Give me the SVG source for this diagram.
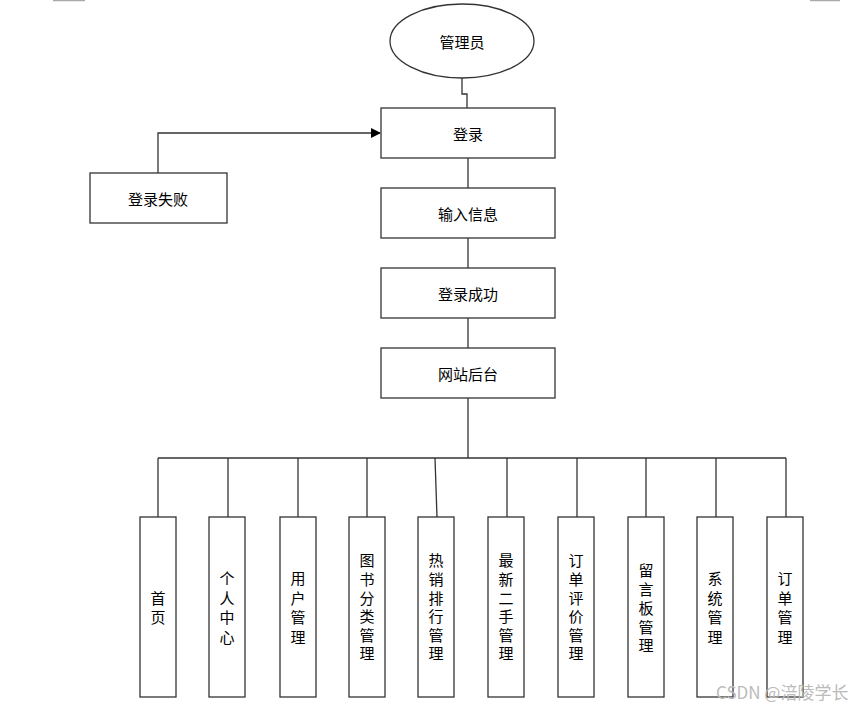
<svg xmlns="http://www.w3.org/2000/svg" width="867" height="711" viewBox="0 0 867 711">
<defs>
<style>
.box{fill:#fff;stroke:#333;stroke-width:1.3}
.ln{fill:none;stroke:#333;stroke-width:1.3}
.t{font-family:"Noto Sans CJK SC","Liberation Sans",sans-serif;font-size:15px;fill:#000;text-anchor:middle;dominant-baseline:central}
.v{font-family:"Noto Sans CJK SC","Liberation Sans",sans-serif;font-size:15px;fill:#000;text-anchor:middle;dominant-baseline:central;writing-mode:vertical-rl}
.v4{letter-spacing:4.5px}
.v5{letter-spacing:3.8px}
.v6{letter-spacing:3.6px}
.wm{font-family:"Noto Sans CJK SC","Liberation Sans",sans-serif;font-size:17px;fill:#bbb;text-anchor:start}
</style>
<marker id="arr" markerWidth="10" markerHeight="10" refX="9" refY="5" orient="auto" markerUnits="userSpaceOnUse">
<path d="M0,0 L10,5 L0,10 Z" fill="#000"/>
</marker>
</defs>
<rect width="867" height="711" fill="#fff"/>
<line x1="53" y1="0.5" x2="85" y2="0.5" stroke="#aaa" stroke-width="1.5"/>
<line x1="810" y1="0.5" x2="840" y2="0.5" stroke="#aaa" stroke-width="1.5"/>
<g id="connectors">
<path class="ln" d="M462,78 V94 H467 V108"/>
<path class="ln" d="M158,173 V133 H380" marker-end="url(#arr)"/>
<line class="ln" x1="468" y1="158" x2="468" y2="188"/>
<line class="ln" x1="468" y1="238" x2="468" y2="268"/>
<line class="ln" x1="468" y1="318" x2="468" y2="348"/>
<line class="ln" x1="468" y1="398" x2="468" y2="458"/>
<line class="ln" x1="158" y1="458" x2="786" y2="458"/>
<line class="ln" x1="158" y1="458" x2="158" y2="517"/>
<line class="ln" x1="228" y1="458" x2="228" y2="517"/>
<line class="ln" x1="298" y1="458" x2="298" y2="517"/>
<line class="ln" x1="367" y1="458" x2="367" y2="517"/>
<line class="ln" x1="435" y1="458" x2="437" y2="517"/>
<line class="ln" x1="507" y1="458" x2="507" y2="517"/>
<line class="ln" x1="577" y1="458" x2="577" y2="517"/>
<line class="ln" x1="646" y1="458" x2="646" y2="517"/>
<line class="ln" x1="716" y1="458" x2="716" y2="517"/>
<line class="ln" x1="786" y1="458" x2="786" y2="517"/>
</g>
<g id="admin"><ellipse class="box" cx="462" cy="41" rx="72" ry="37"/><text class="t" x="462" y="41">管理员</text></g>
<g id="login"><rect class="box" x="381" y="108" width="174" height="50"/><text class="t" x="468" y="133">登录</text></g>
<g id="input"><rect class="box" x="381" y="188" width="174" height="50"/><text class="t" x="468" y="213">输入信息</text></g>
<g id="success"><rect class="box" x="381" y="268" width="174" height="50"/><text class="t" x="468" y="293">登录成功</text></g>
<g id="backend"><rect class="box" x="381" y="348" width="174" height="50"/><text class="t" x="468" y="373">网站后台</text></g>
<g id="fail"><rect class="box" x="90" y="173" width="137" height="50"/><text class="t" x="158" y="198">登录失败</text></g>
<g id="m1"><rect class="box" x="140" y="517" width="36" height="180"/><text class="v v4" x="158" y="610">首页</text></g>
<g id="m2"><rect class="box" x="209" y="517" width="36" height="180"/><text class="v v4" x="227" y="610">个人中心</text></g>
<g id="m3"><rect class="box" x="280" y="517" width="36" height="180"/><text class="v v4" x="298" y="610">用户管理</text></g>
<g id="m4"><rect class="box" x="349" y="517" width="36" height="180"/><text class="v v6" x="367" y="609">图书分类管理</text></g>
<g id="m5"><rect class="box" x="418" y="517" width="36" height="180"/><text class="v v6" x="436" y="609">热销排行管理</text></g>
<g id="m6"><rect class="box" x="488" y="517" width="36" height="180"/><text class="v v6" x="506" y="609">最新二手管理</text></g>
<g id="m7"><rect class="box" x="558" y="517" width="36" height="180"/><text class="v v6" x="576" y="609">订单评价管理</text></g>
<g id="m8"><rect class="box" x="628" y="517" width="36" height="180"/><text class="v v5" x="646" y="610">留言板管理</text></g>
<g id="m9"><rect class="box" x="697" y="517" width="36" height="180"/><text class="v v4" x="715" y="610">系统管理</text></g>
<g id="m10"><rect class="box" x="767" y="517" width="36" height="180"/><text class="v v4" x="785" y="610">订单管理</text></g>
<text class="wm" x="716" y="699">CSDN @涪陵学长</text>
</svg>
